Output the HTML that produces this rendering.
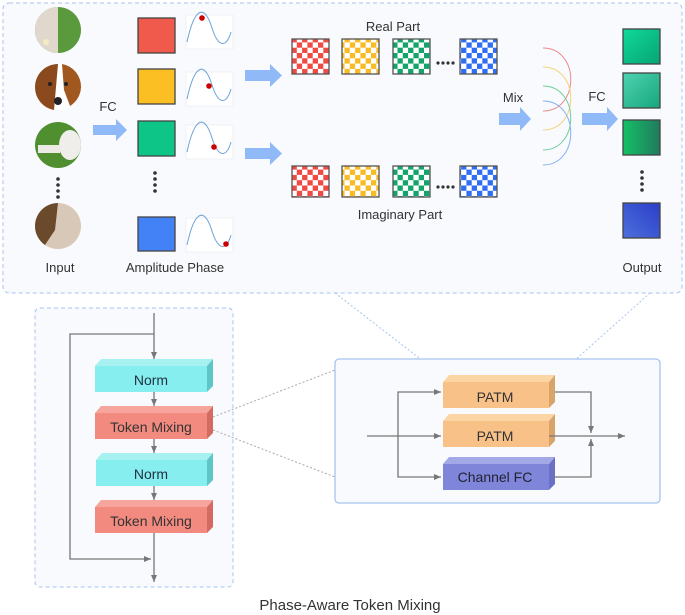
<!DOCTYPE html>
<html><head><meta charset="utf-8"><style>
body{margin:0;background:#fff;}
svg{display:block;font-family:"Liberation Sans",sans-serif;}
</style></head><body>
<svg width="685" height="615" viewBox="0 0 685 615" xmlns="http://www.w3.org/2000/svg">
<defs>
<pattern id="pr" width="10.6" height="10.6" patternUnits="userSpaceOnUse"><rect width="10.6" height="10.6" fill="#fff"/><rect width="5.3" height="5.3" fill="#ef4a44"/><rect x="5.3" y="5.3" width="5.3" height="5.3" fill="#ef4a44"/></pattern>
<pattern id="py" width="10.6" height="10.6" patternUnits="userSpaceOnUse"><rect width="10.6" height="10.6" fill="#fff"/><rect width="5.3" height="5.3" fill="#f8bb22"/><rect x="5.3" y="5.3" width="5.3" height="5.3" fill="#f8bb22"/></pattern>
<pattern id="pg" width="10.6" height="10.6" patternUnits="userSpaceOnUse"><rect width="10.6" height="10.6" fill="#fff"/><rect width="5.3" height="5.3" fill="#12a46a"/><rect x="5.3" y="5.3" width="5.3" height="5.3" fill="#12a46a"/></pattern>
<pattern id="pb" width="10.6" height="10.6" patternUnits="userSpaceOnUse"><rect width="10.6" height="10.6" fill="#fff"/><rect width="5.3" height="5.3" fill="#2f6ef0"/><rect x="5.3" y="5.3" width="5.3" height="5.3" fill="#2f6ef0"/></pattern>
<linearGradient id="o1" x1="0" y1="0" x2="1" y2="1"><stop offset="0" stop-color="#10d89a"/><stop offset="1" stop-color="#07a572"/></linearGradient>
<linearGradient id="o2" x1="0" y1="0" x2="1" y2="1"><stop offset="0" stop-color="#4fd2b0"/><stop offset="1" stop-color="#15a77c"/></linearGradient>
<linearGradient id="o3" x1="0" y1="0" x2="1" y2="0"><stop offset="0" stop-color="#14c066"/><stop offset="1" stop-color="#217a5e"/></linearGradient>
<linearGradient id="o4" x1="0" y1="1" x2="1" y2="0"><stop offset="0" stop-color="#4c70dc"/><stop offset="1" stop-color="#2c3ec8"/></linearGradient>
<marker id="ah" markerWidth="8" markerHeight="8" refX="7" refY="4" orient="auto" markerUnits="userSpaceOnUse"><path d="M0,1 L7,4 L0,7 z" fill="#777"/></marker>
</defs>

<rect x="3" y="3" width="679" height="290" rx="6" fill="#f8fafd" stroke="#a8c4f0" stroke-dasharray="4,3"/>

<circle cx="58" cy="30" r="23" fill="#5a9a3c"/><path d="M58,7 A23,23 0 0,0 58,53 Z" fill="#e0d8cc"/><circle cx="46" cy="42" r="3" fill="#f4ecc0"/>
<circle cx="58" cy="87" r="23" fill="#fff"/><path d="M35,87 A23,23 0 0,1 58,64 L54,110 A23,23 0 0,1 35,87Z" fill="#8b4a1e"/><path d="M62,64 A23,23 0 0,1 81,87 A23,23 0 0,1 70,106 L64,90Z" fill="#a0581f"/><circle cx="50" cy="84" r="2" fill="#222"/><circle cx="66" cy="84" r="2" fill="#222"/><circle cx="58" cy="101" r="4" fill="#222"/>
<circle cx="58" cy="145" r="23" fill="#4f8f30"/><ellipse cx="70" cy="145" rx="11" ry="15" fill="#f0eeea"/><rect x="38" y="145" width="22" height="8" fill="#eceae4"/>
<circle cx="58" cy="226" r="23" fill="#d8c8b8"/><path d="M35,226 A23,23 0 0,1 58,203 L55,230 L45,245 A23,23 0 0,1 35,226Z" fill="#6a4a2a"/>
<g fill="#333"><circle cx="58" cy="179" r="1.8"/><circle cx="58" cy="185" r="1.8"/><circle cx="58" cy="191" r="1.8"/><circle cx="58" cy="197" r="1.8"/></g>

<text x="108" y="111" font-size="13" text-anchor="middle" fill="#333">FC</text>
<path d="M93,125 H116 V119 L127,130 L116,141 V135 H93Z" fill="#8fbaf7"/>

<rect x="138" y="18" width="37" height="35" fill="#f05a4c" stroke="#444" stroke-width="1.3"/>
<rect x="138" y="69" width="37" height="35" fill="#fbbf24" stroke="#444" stroke-width="1.3"/>
<rect x="138" y="121" width="37" height="35" fill="#0cc586" stroke="#444" stroke-width="1.3"/>
<rect x="138" y="217" width="37" height="34" fill="#4382f6" stroke="#444" stroke-width="1.3"/>
<g fill="#333"><circle cx="155" cy="173" r="1.8"/><circle cx="155" cy="179" r="1.8"/><circle cx="155" cy="185" r="1.8"/><circle cx="155" cy="191" r="1.8"/></g>

<g fill="#fff" stroke="#eef0f4"><rect x="186" y="15" width="47" height="34"/><rect x="186" y="72" width="47" height="34"/><rect x="186" y="125" width="47" height="34"/><rect x="186" y="218" width="47" height="34"/></g>
<g fill="none" stroke="#6fa3d8" stroke-width="1">
<path d="M187,42 C195,5 205,5 212,28 C219,50 227,46 231,32"/>
<path d="M187,99 C195,62 205,62 212,85 C219,107 227,103 231,89"/>
<path d="M187,152 C195,115 205,115 212,138 C219,160 227,156 231,142"/>
<path d="M187,245 C195,208 205,208 212,231 C219,253 227,249 231,235"/>
</g>
<g fill="#c00"><circle cx="202" cy="18" r="2.8"/><circle cx="209" cy="86" r="2.8"/><circle cx="214" cy="147" r="2.8"/><circle cx="226" cy="244" r="2.8"/></g>

<text x="60" y="272" font-size="13" text-anchor="middle" fill="#333">Input</text>
<text x="175" y="272" font-size="13" text-anchor="middle" fill="#333">Amplitude Phase</text>

<path d="M245,70 H270 V64 L282,75.5 L270,87 V81 H245Z" fill="#8fbaf7"/>
<path d="M245,148 H270 V142 L282,153.5 L270,165 V159 H245Z" fill="#8fbaf7"/>

<text x="393" y="31" font-size="13" text-anchor="middle" fill="#333">Real Part</text>
<g stroke="#555" stroke-width="1.3">
<rect x="292" y="39" width="37" height="35" fill="url(#pr)"/><rect x="342" y="39" width="37" height="35" fill="url(#py)"/><rect x="393" y="39" width="37" height="35" fill="url(#pg)"/><rect x="460" y="39" width="37" height="35" fill="url(#pb)"/>
<rect x="292" y="166" width="37" height="31" fill="url(#pr)"/><rect x="342" y="166" width="37" height="31" fill="url(#py)"/><rect x="393" y="166" width="37" height="31" fill="url(#pg)"/><rect x="460" y="166" width="37" height="31" fill="url(#pb)"/>
</g>
<g fill="#333"><circle cx="438" cy="63" r="1.6"/><circle cx="443" cy="63" r="1.6"/><circle cx="448" cy="63" r="1.6"/><circle cx="453" cy="63" r="1.6"/>
<circle cx="438" cy="187" r="1.6"/><circle cx="443" cy="187" r="1.6"/><circle cx="448" cy="187" r="1.6"/><circle cx="453" cy="187" r="1.6"/></g>
<text x="400" y="219" font-size="13" text-anchor="middle" fill="#333">Imaginary Part</text>

<text x="513" y="102" font-size="13" text-anchor="middle" fill="#333">Mix</text>
<path d="M499,113 H520 V107 L531,119 L520,131 V125 H499Z" fill="#8fbaf7"/>
<g fill="none" stroke-width="1">
<path d="M543,48 C580,48 580,111 543,111" stroke="#f08a8a"/>
<path d="M543,67 C580,67 580,130 543,130" stroke="#f6d27a"/>
<path d="M543,86 C580,86 580,150 543,150" stroke="#6ccf9a"/>
<path d="M543,101 C580,101 580,165 543,165" stroke="#7fb2f3"/>
</g>
<text x="597" y="101" font-size="13" text-anchor="middle" fill="#333">FC</text>
<path d="M582,113 H607 V107 L618,119 L607,131 V125 H582Z" fill="#8fbaf7"/>

<g stroke="#444" stroke-width="1.3">
<rect x="623" y="29" width="37" height="35" fill="url(#o1)"/>
<rect x="623" y="73" width="37" height="35" fill="url(#o2)"/>
<rect x="623" y="120" width="37" height="35" fill="url(#o3)"/>
<rect x="623" y="203" width="37" height="35" fill="url(#o4)"/>
</g>
<g fill="#333"><circle cx="642" cy="172" r="1.8"/><circle cx="642" cy="178" r="1.8"/><circle cx="642" cy="184" r="1.8"/><circle cx="642" cy="190" r="1.8"/></g>
<text x="642" y="272" font-size="13" text-anchor="middle" fill="#333">Output</text>

<line x1="335" y1="293" x2="445" y2="378" stroke="#a8c4f0" stroke-dasharray="2,2"/>
<line x1="650" y1="293" x2="555" y2="378" stroke="#a8c4f0" stroke-dasharray="2,2"/>

<rect x="35" y="308" width="198" height="279" rx="5" fill="#f8fafd" stroke="#a8c4f0" stroke-dasharray="4,3"/>
<g stroke="#777" stroke-width="1.3" fill="none">
<line x1="154" y1="313" x2="154" y2="359" marker-end="url(#ah)"/>
<polyline points="154,334 70,334 70,559 151,559" marker-end="url(#ah)"/>
<line x1="154" y1="392" x2="154" y2="406" marker-end="url(#ah)"/>
<line x1="154" y1="439" x2="154" y2="453" marker-end="url(#ah)"/>
<line x1="154" y1="486" x2="154" y2="500" marker-end="url(#ah)"/>
<line x1="154" y1="533" x2="154" y2="582" marker-end="url(#ah)"/>
</g>
<g>
<polygon points="95,366 101,359 213,359 207,366" fill="#a8f1f1"/><polygon points="207,366 213,359 213,386 207,392" fill="#5ec6c6"/><rect x="95" y="366" width="112" height="26" fill="#86eeee"/>
<text x="151" y="385" font-size="14" text-anchor="middle" fill="#234">Norm</text>
<polygon points="95,413 101,406 213,406 207,413" fill="#f5a59c"/><polygon points="207,413 213,406 213,433 207,439" fill="#d46a62"/><rect x="95" y="413" width="112" height="26" fill="#f28a80"/>
<text x="151" y="432" font-size="14" text-anchor="middle" fill="#333">Token Mixing</text>
<polygon points="96,460 102,453 213,453 207,460" fill="#a8f1f1"/><polygon points="207,460 213,453 213,480 207,486" fill="#5ec6c6"/><rect x="96" y="460" width="111" height="26" fill="#86eeee"/>
<text x="151" y="479" font-size="14" text-anchor="middle" fill="#234">Norm</text>
<polygon points="95,507 101,500 213,500 207,507" fill="#f5a59c"/><polygon points="207,507 213,500 213,527 207,533" fill="#d46a62"/><rect x="95" y="507" width="112" height="26" fill="#f28a80"/>
<text x="151" y="526" font-size="14" text-anchor="middle" fill="#333">Token Mixing</text>
</g>

<line x1="213" y1="417" x2="335" y2="370" stroke="#aaa" stroke-dasharray="2,2"/>
<line x1="213" y1="430" x2="335" y2="477" stroke="#aaa" stroke-dasharray="2,2"/>

<rect x="335" y="359" width="325" height="144" rx="4" fill="#f8fafd" stroke="#a8c4f0" stroke-width="1.3"/>
<g>
<polygon points="443,382 449,375 555,375 549,382" fill="#fbd5a4"/><polygon points="549,382 555,375 555,402 549,408" fill="#d9a46a"/><rect x="443" y="382" width="106" height="26" fill="#f8c188"/>
<text x="495" y="402" font-size="14" text-anchor="middle" fill="#333">PATM</text>
<polygon points="443,421 449,414 555,414 549,421" fill="#fbd5a4"/><polygon points="549,421 555,414 555,441 549,447" fill="#d9a46a"/><rect x="443" y="421" width="106" height="26" fill="#f8c188"/>
<text x="495" y="441" font-size="14" text-anchor="middle" fill="#333">PATM</text>
<polygon points="443,464 449,457 555,457 549,464" fill="#a3a8e6"/><polygon points="549,464 555,457 555,484 549,490" fill="#6a70c4"/><rect x="443" y="464" width="106" height="26" fill="#7f85d8"/>
<text x="495" y="482" font-size="14" text-anchor="middle" fill="#223">Channel FC</text>
</g>
<g stroke="#777" stroke-width="1.3" fill="none">
<line x1="367" y1="436" x2="441" y2="436" marker-end="url(#ah)"/>
<polyline points="398,436 398,392 441,392" marker-end="url(#ah)"/>
<polyline points="398,436 398,477 441,477" marker-end="url(#ah)"/>
<polyline points="555,392 591,392 591,433" marker-end="url(#ah)"/>
<polyline points="555,477 591,477 591,439" marker-end="url(#ah)"/>
<line x1="549" y1="436" x2="625" y2="436" marker-end="url(#ah)"/>
</g>

<text x="350" y="610" font-size="15" text-anchor="middle" fill="#333">Phase-Aware Token Mixing</text>
</svg>
</body></html>
